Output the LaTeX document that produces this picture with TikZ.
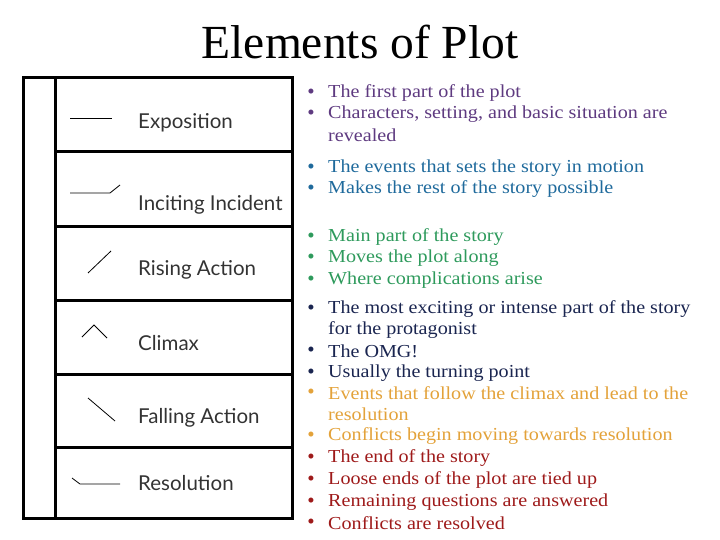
\documentclass[tikz,border=0pt]{standalone}
\usepackage{fontspec}
\setmainfont{Liberation Serif}
\newfontfamily\labfont{Lato}
\newfontfamily\wideserif[FakeStretch=1.1]{Liberation Serif}
\definecolor{cpur}{HTML}{5E3A80}
\definecolor{cblu}{HTML}{1F6A9C}
\definecolor{cgrn}{HTML}{2E9A5C}
\definecolor{cnav}{HTML}{1A2550}
\definecolor{corg}{HTML}{E3A23A}
\definecolor{cred}{HTML}{9E1A1A}
\begin{document}
\begin{tikzpicture}[x=1pt,y=-1pt,
  frame/.style={line width=3pt},
  icon/.style={line width=0.8pt},
  lab/.style={anchor=west,inner sep=0pt,font=\labfont\fontsize{20.5}{20.5}\selectfont,text=black!80},
  ln/.style={anchor=west,inner sep=0pt,font=\wideserif\fontsize{18.3}{18.3}\selectfont},
  bul/.style={anchor=center,inner sep=0pt,font=\fontsize{21}{21}\selectfont}]
\useasboundingbox (0,0) rectangle (720,540);
\node[inner sep=0pt,font=\fontsize{47.5}{47.5}\selectfont] (title) at (360,42) {Elements of Plot};
% frame
\draw[frame] (23,78) rectangle (292,518);
\draw[frame] (55,78) -- (55,518);
\foreach \y in {152,227,300,374,447} \draw[frame] (55,\y) -- (292,\y);
% icons
\draw[icon] (70,118) -- (112,118);
\draw[icon] (70,193) -- (110,193) -- (120,185);
\draw[icon] (88,273) -- (111,251);
\draw[icon] (82,337) -- (94,325) -- (107,338);
\draw[icon] (88,398) -- (115,421);
\draw[icon] (72,478) -- (80,484) -- (120,484);
% labels
\node[lab] (l1) at (138,123) {Exposition};
\node[lab] (l2) at (138,205) {Inciting Incident};
\node[lab] (l3) at (138,270) {Rising Action};
\node[lab] (l4) at (138,343) {Climax};
\node[lab] (l5) at (138,418) {Falling Action};
\node[lab] (l6) at (138,483) {Resolution};
% bullet text
\foreach \y/\c/\t/\b in {
 93/cpur/{The first part of the plot}/1,
 114/cpur/{Characters, setting, and basic situation are}/1,
 135/cpur/{revealed}/0,
 168/cblu/{The events that sets the story in motion}/1,
 189/cblu/{Makes the rest of the story possible}/1,
 237/cgrn/{Main part of the story}/1,
 258/cgrn/{Moves the plot along}/1,
 280/cgrn/{Where complications arise}/1,
 309/cnav/{The most exciting or intense part of the story}/1,
 330/cnav/{for the protagonist}/0,
 351/cnav/{The OMG!}/1,
 373/cnav/{Usually the turning point}/1,
 393/corg/{Events that follow the climax and lead to the}/1,
 414/corg/{resolution}/0,
 436/corg/{Conflicts begin moving towards resolution}/1,
 458/cred/{The end of the story}/1,
 480/cred/{Loose ends of the plot are tied up}/1,
 502/cred/{Remaining questions are answered}/1,
 523/cred/{Conflicts are resolved}/1}{
  \node[ln,text=\c] (t\y) at (328,\y) {\t};
  \ifnum\b=1 \node[bul,text=\c] (b\y) at (311,\y+1) {•};\fi
}
\end{tikzpicture}
\end{document}
